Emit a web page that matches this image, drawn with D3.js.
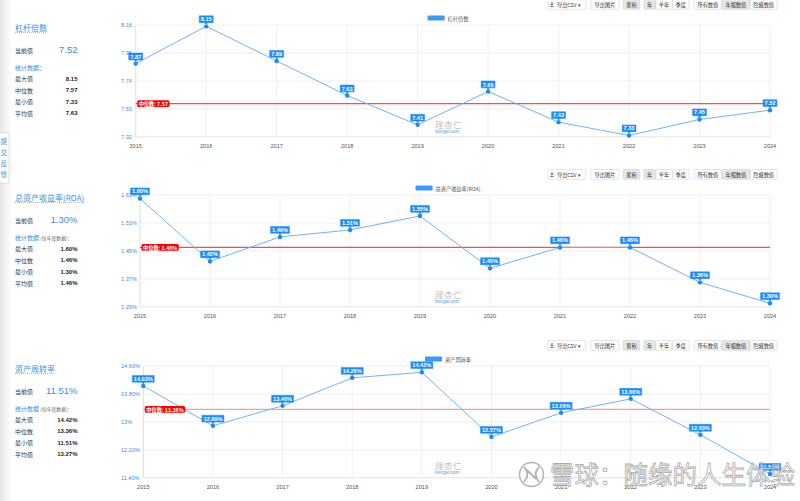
<!DOCTYPE html>
<html><head><meta charset="utf-8">
<script src="https://cdn.jsdelivr.net/npm/d3@7"></script>
<style>
html,body{margin:0;padding:0;background:#fff;overflow:hidden;}
svg{display:block;font-family:"Liberation Sans","Noto Sans CJK SC",sans-serif;}
</style></head>
<body>
<svg id="c" width="800" height="501"></svg>
<script>
// ---------- data ----------
const years = ["2015","2016","2017","2018","2019","2020","2021","2022","2023","2024"];

const leverageValues = [7.87, 8.15, 7.89, 7.63, 7.41, 7.66, 7.43, 7.33, 7.45, 7.52];
const roaValues = [1.60, 1.42, 1.49, 1.51, 1.55, 1.40, 1.46, 1.46, 1.36, 1.30];
const turnoverValues = [14.03, 12.89, 13.46, 14.26, 14.42, 12.57, 13.26, 13.66, 12.63, 11.51];

const leverageTicks = [7.32, 7.53, 7.74, 7.95, 8.16];
const leverageTickLabels = ["7.32", "7.53", "7.74", "7.95", "8.16"];
const roaTicks = [1.29, 1.37, 1.45, 1.53, 1.61];
const roaTickLabels = ["1.29%", "1.37%", "1.45%", "1.53%", "1.61%"];
const turnoverTicks = [11.40, 12.20, 13.00, 13.80, 14.60];
const turnoverTickLabels = ["11.40%", "12.20%", "13%", "13.80%", "14.60%"];

const chartTitles = ["杠杆倍数", "总资产收益率(ROA)", "资产周转率"];
const legendLabels = ["杠杆倍数", "总资产收益率(ROA)", "资产周转率"];
const currentValues = ["7.52", "1.30%", "11.51%"];
const medianValues = [7.57, 1.46, 13.36];
const statNames = ["最大值", "中位数", "最小值", "平均值"];
const leverageStats = ["8.15", "7.57", "7.33", "7.63"];
const roaStats = ["1.60%", "1.46%", "1.30%", "1.46%"];
const turnoverStats = ["14.42%", "13.36%", "11.51%", "13.27%"];
const toolbarButtons = ["导出CSV ▾", "导出图片", "累积", "年", "半年", "季度", "所有数值", "年报数值", "隐藏数值"];

// ---------- layout ----------
const svg = d3.select("#c");
const FONT = '"Liberation Sans","Noto Sans CJK SC",sans-serif';
const CJK = '"Noto Sans CJK SC","Liberation Sans",sans-serif';

const panels = [
  {off: 0,   x0: 135.7, values: leverageValues, ticks: leverageTicks, tickLabels: leverageTickLabels, pct: false, stats: leverageStats, median: medianValues[0], medColor: "#ff4a4a", sub: false},
  {off: 170, x0: 140,   values: roaValues, ticks: roaTicks, tickLabels: roaTickLabels, pct: true, stats: roaStats, median: medianValues[1], medColor: "#ff4a4a", sub: true},
  {off: 341, x0: 143.3, values: turnoverValues, ticks: turnoverTicks, tickLabels: turnoverTickLabels, pct: true, stats: turnoverStats, median: medianValues[2], medColor: "#ff9c9c", sub: true}
];
const X1 = 770, TOP = 25, BOT = 136.8;

// left gray strip
const defs = svg.append("defs");
const lg = defs.append("linearGradient").attr("id","strip").attr("x1","0").attr("x2","1");
lg.append("stop").attr("offset","0").attr("stop-color","#e6e6e6");
lg.append("stop").attr("offset","1").attr("stop-color","#ffffff");
svg.append("rect").attr("x",0).attr("y",0).attr("width",12).attr("height",501).attr("fill","url(#strip)");

panels.forEach((p, pi) => {
  const g = svg.append("g").attr("transform", `translate(0,${p.off})`);
  const x = d3.scalePoint().domain(years).range([p.x0, X1]);
  const y = d3.scaleLinear().domain([p.ticks[0], p.ticks[p.ticks.length-1]]).range([BOT, TOP]);

  // ---- left stats panel ----
  const lp = g.append("g");
  const title = lp.append("text").attr("x",15).attr("y",27).attr("dominant-baseline","central")
    .attr("font-family",CJK).attr("font-size",8).attr("fill","#3a8ee6").text(chartTitles[pi]);
  const tw = title.node().getComputedTextLength();
  lp.append("line").attr("x1",15).attr("x2",15+tw).attr("y1",32.6).attr("y2",32.6)
    .attr("stroke","#3a8ee6").attr("stroke-width",0.6).attr("stroke-dasharray","1,1");
  lp.append("text").attr("x",15).attr("y",50).attr("dominant-baseline","central")
    .attr("font-family",CJK).attr("font-size",6).attr("fill","#333").text("当前值");
  lp.append("text").attr("x",77.5).attr("y",49.5).attr("dominant-baseline","central").attr("text-anchor","end")
    .attr("font-family",FONT).attr("font-size",9.5).attr("fill","#3a8ee6").text(currentValues[pi]);
  const st = lp.append("text").attr("x",15).attr("y",67).attr("dominant-baseline","central")
    .attr("font-family",CJK).attr("font-size",6).attr("fill","#3a8ee6");
  st.append("tspan").text(p.sub ? "统计数据 " : "统计数据：");
  if (p.sub) st.append("tspan").attr("font-size",4.8).attr("fill","#666").text("(仅年度数据)：");
  statNames.forEach((n, i) => {
    const yy = 78.6 + i*11.5;
    lp.append("text").attr("x",15).attr("y",yy).attr("dominant-baseline","central")
      .attr("font-family",CJK).attr("font-size",6).attr("fill","#333").text(n);
    lp.append("text").attr("x",77.5).attr("y",yy).attr("dominant-baseline","central").attr("text-anchor","end")
      .attr("font-family",FONT).attr("font-size",6).attr("font-weight","bold").attr("fill","#222").text(p.stats[i]);
  });

  // ---- toolbar ----
  const tb = g.append("g");
  const btnX = [[547.7,586],[590.7,619.3],[623,640],[643.7,655.7],[655.7,672.3],[672.3,689.3],[694,721.7],[721.7,750],[750,777.3]];
  const active = [false,false,true,true,false,false,false,true,false];
  toolbarButtons.forEach((b, i) => {
    const [a, c] = btnX[i];
    tb.append("rect").attr("x",a+0.25).attr("y",-0.5).attr("width",c-a-0.5).attr("height",9.8).attr("rx",1)
      .attr("fill", active[i] ? "#e6e6e6" : "#fff").attr("stroke","#c8c8c8").attr("stroke-width",0.5);
    tb.append("text").attr("x",(a+c)/2 + (i===0?2:0)).attr("y",4.5).attr("dominant-baseline","central")
      .attr("text-anchor","middle").attr("font-family",CJK).attr("font-size",5.2).attr("fill","#333").text(b);
    if (i===0) {
      tb.append("path").attr("d",`M${a+4.3},${1.8} v3.2 M${a+2.9},${3.8} l1.4,1.4 l1.4,-1.4 M${a+2.6},${6.6} h3.4`)
        .attr("stroke","#333").attr("stroke-width",0.7).attr("fill","none");
    }
  });

  // ---- legend ----
  const legG = g.append("g");
  const lt = legG.append("text").attr("y",18).attr("dominant-baseline","central")
    .attr("font-family",CJK).attr("font-size",5.2).attr("fill","#555").text(legendLabels[pi]);
  const lw = lt.node().getComputedTextLength();
  const total = 17 + 3 + lw;
  const lx = 448 - total/2;
  legG.append("rect").attr("x",lx).attr("y",15.5).attr("width",17).attr("height",5).attr("rx",0.8).attr("fill","#3d97ff");
  lt.attr("x", lx + 20);

  // ---- grid ----
  const grid = g.append("g");
  grid.selectAll("line.h").data(p.ticks).join("line")
    .attr("x1",p.x0).attr("x2",X1).attr("y1",d=>y(d)).attr("y2",d=>y(d))
    .attr("stroke",(d,i)=> i===0 ? "#dcdcdc" : "#ececec").attr("stroke-width",0.8);
  grid.selectAll("line.v").data(years).join("line")
    .attr("x1",d=>x(d)).attr("x2",d=>x(d)).attr("y1",TOP).attr("y2",BOT)
    .attr("stroke",(d,i)=> i===0 ? "#d6d6d6" : "#ececec").attr("stroke-width",0.8);

  // y tick labels
  g.selectAll("text.yl").data(p.ticks).join("text")
    .attr("x",121).attr("y",d=>y(d)).attr("dominant-baseline","central")
    .attr("font-family",FONT).attr("font-size",5.6).attr("fill","#3a8ee6")
    .text((d,i)=>p.tickLabels[i]);
  // x tick labels
  g.selectAll("text.xl").data(years).join("text")
    .attr("x",d=>x(d)).attr("y",145.7).attr("dominant-baseline","central").attr("text-anchor","middle")
    .attr("font-family",FONT).attr("font-size",5.6).attr("fill","#555").text(d=>d);

  // watermark lixinger
  g.append("text").attr("x",435).attr("y",124).attr("dominant-baseline","central")
    .attr("font-family",CJK).attr("font-size",8.5).attr("fill","#c2c2c2").attr("letter-spacing",0.5).text("理杏仁");
  g.append("text").attr("x",435).attr("y",131.2).attr("dominant-baseline","central")
    .attr("font-family",FONT).attr("font-size",4.6).attr("fill","#4b9be8").text("lixinger.com");

  // median line
  const my = y(p.median);
  g.append("line").attr("x1",p.x0).attr("x2",X1).attr("y1",my).attr("y2",my)
    .attr("stroke",p.medColor).attr("stroke-width",1.3);

  // series line
  const line = d3.line().x((d,i)=>x(years[i])).y(d=>y(d));
  g.append("path").datum(p.values).attr("d",line).attr("fill","none")
    .attr("stroke","#6fb3f8").attr("stroke-width",1);
  g.selectAll("circle.pt").data(p.values).join("circle")
    .attr("cx",(d,i)=>x(years[i])).attr("cy",d=>y(d)).attr("r",2.2).attr("fill","#1e88ff");

  // median label
  const mg = g.append("g");
  const mt = mg.append("text").attr("x",p.x0+3).attr("y",my).attr("dominant-baseline","central")
    .attr("font-family",CJK).attr("font-size",5.2).attr("font-weight","bold").attr("fill","#fff")
    .text("中位数: " + (p.pct ? p.median.toFixed(2)+"%" : p.median.toFixed(2)));
  const mw = mt.node().getComputedTextLength();
  mg.insert("rect","text").attr("x",p.x0+1.5).attr("y",my-3.4).attr("width",mw+3).attr("height",6.8).attr("rx",1.5)
    .attr("fill","#ff0000");

  // data labels
  p.values.forEach((v, i) => {
    const px = x(years[i]), py = y(v);
    const lgp = g.append("g");
    const txt = lgp.append("text").attr("x",px).attr("y",py-7).attr("dominant-baseline","central").attr("text-anchor","middle")
      .attr("font-family",FONT).attr("font-size",5.6).attr("font-weight","bold").attr("fill","#fff")
      .text(p.pct ? v.toFixed(2)+"%" : v.toFixed(2));
    const w = txt.node().getComputedTextLength() + 3;
    lgp.insert("path","text").attr("d",`M${px-w/2},${py-10.5} h${w} v6.8 h${-(w/2-1.6)} l-1.6,1.6 l-1.6,-1.6 h${-(w/2-1.6)} z`)
      .attr("fill","#1a8cff").attr("stroke","#1a8cff").attr("stroke-width",0.5).attr("stroke-linejoin","round");
  });
});

// side tab
svg.append("rect").attr("x",-1).attr("y",133).attr("width",10).attr("height",50).attr("fill","#fff")
  .attr("stroke","#cfcfcf").attr("stroke-width",0.6);
["提","交","反","馈"].forEach((c,i)=>{
  svg.append("text").attr("x",3.8).attr("y",141+i*11).attr("dominant-baseline","central").attr("text-anchor","middle")
    .attr("font-family",CJK).attr("font-size",6.5).attr("fill","#3a8ee6").text(c);
});

// big overlay watermark
const wm = svg.append("g").attr("opacity",0.8);
wm.append("circle").attr("cx",531.5).attr("cy",474.5).attr("r",12).attr("fill","rgba(255,255,255,0.5)").attr("stroke","#a0a0a0").attr("stroke-width",1.4);
wm.append("path").attr("d","M524,467 Q531,474 524,482 M539,467 Q532,474 539,482 M527,470 L536,479")
  .attr("fill","none").attr("stroke","#a0a0a0").attr("stroke-width",1.8);
wm.append("text").attr("x",550).attr("y",484).attr("font-family",CJK).attr("font-size",24.5)
  .attr("fill","rgba(255,255,255,0.75)").attr("stroke","#999").attr("stroke-width",0.8)
  .text("雪球：随缘的人生体验");
</script>
</body></html>
